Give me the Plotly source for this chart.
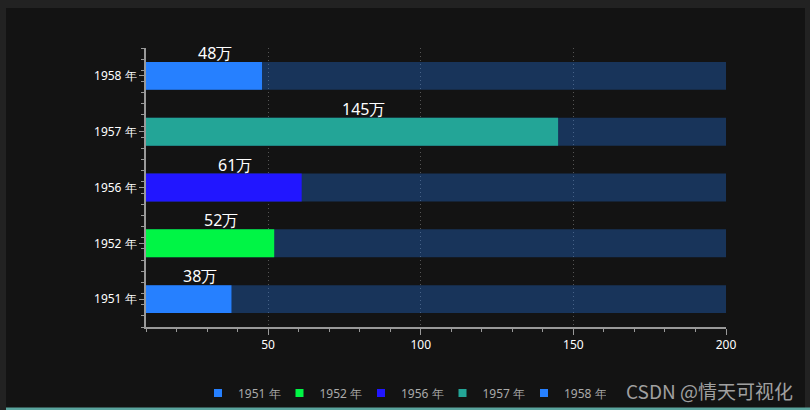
import plotly.graph_objects as go

categories = ["1951 年", "1952 年", "1956 年", "1957 年", "1958 年"]
values = [38, 52, 61, 145, 48]
colors = ["#2680ff", "#00f545", "#2116ff", "#23a597", "#2680ff"]
max_value = 200
axis_min = 10
label_suffix = "万"
x_ticks = [50, 100, 150, 200]

W, H = 810, 410
L, R, T, B = 146, 84, 48, 83
pw, ph = W - L - R, H - T - B

def px_x(p):
    return (p - L) / pw

def px_y(p):
    return (H - B - p) / ph

ypos = list(range(len(categories)))

fig = go.Figure()

# background track bars
fig.add_trace(go.Bar(
    y=ypos, x=[max_value - axis_min] * len(categories), base=axis_min,
    orientation="h", width=0.5, marker=dict(color="rgba(36,128,255,0.3)", line_width=0),
    showlegend=False, hoverinfo="skip",
))

for yp, cat, val, col in zip(ypos, categories, values, colors):
    fig.add_trace(go.Bar(
        y=[yp], x=[val - axis_min], base=axis_min, orientation="h", width=0.5,
        name=cat, marker=dict(color=col, line_width=0), showlegend=False,
    ))
    # legend entry with small square marker
    fig.add_trace(go.Scatter(
        x=[None], y=[None], mode="markers", name=cat,
        marker=dict(symbol="square", size=8, color=col),
    ))
    fig.add_annotation(
        x=(axis_min + val) / 2, y=yp, xref="x", yref="y",
        text=f"{val}{label_suffix}", showarrow=False,
        yshift=23, xshift=11,
        font=dict(color="#ffffff", size=16, family="Noto Sans, sans-serif"),
    )

# frame / background decorations
fig.add_shape(type="rect", xref="paper", yref="paper",
              x0=px_x(6), x1=px_x(805), y0=px_y(408), y1=px_y(8),
              fillcolor="#131313", line_width=0, layer="below")
fig.add_shape(type="rect", xref="paper", yref="paper",
              x0=px_x(6), x1=px_x(810), y0=px_y(410), y1=px_y(407.5),
              fillcolor="#5aa59e", line_width=0, layer="below")

fig.add_annotation(
    xref="paper", yref="paper", x=px_x(795), y=px_y(390),
    xanchor="right", yanchor="middle", showarrow=False,
    text="CSDN @情天可视化",
    font=dict(color="#a0a0a0", size=19, family="Noto Sans CJK SC, sans-serif"),
)

fig.update_layout(
    width=W, height=H,
    margin=dict(l=L, r=R, t=T, b=B, autoexpand=False),
    paper_bgcolor="#222222",
    plot_bgcolor="#131313",
    barmode="overlay",
    font=dict(family="Noto Sans, sans-serif", color="#ffffff", size=12),
    showlegend=True,
    legend=dict(
        orientation="h", x=px_x(198), y=px_y(393), xanchor="left", yanchor="middle",
        font=dict(color="#aaaaaa", size=12), bgcolor="rgba(0,0,0,0)",
        itemwidth=30, entrywidth=36.5, entrywidthmode="pixels",
    ),
    xaxis=dict(
        range=[axis_min, max_value], tickvals=x_ticks,
        showgrid=True, gridcolor="#555555", griddash="1px,3px", gridwidth=1,
        showline=True, linecolor="#999999", linewidth=2,
        ticks="outside", ticklen=6, tickcolor="#999999",
        minor=dict(ticks="outside", ticklen=3, tickcolor="#999999", dtick=10, showgrid=False),
        tickfont=dict(color="#ffffff", size=12), zeroline=False, fixedrange=True,
    ),
    yaxis=dict(
        tickvals=ypos, ticktext=categories,
        range=[-0.5, len(categories) - 0.5],
        showgrid=False, showline=True, linecolor="#999999", linewidth=2,
        ticks="outside", ticklen=5, tickcolor="#999999",
        minor=dict(ticks="outside", ticklen=3, tickcolor="#999999", dtick=0.2,
                   tick0=-0.5, showgrid=False),
        tickfont=dict(color="#ffffff", size=12), zeroline=False, fixedrange=True,
    ),
)

fig.write_html("out.html", config={"displayModeBar": False},
               post_script="document.body.style.margin='0px';")
